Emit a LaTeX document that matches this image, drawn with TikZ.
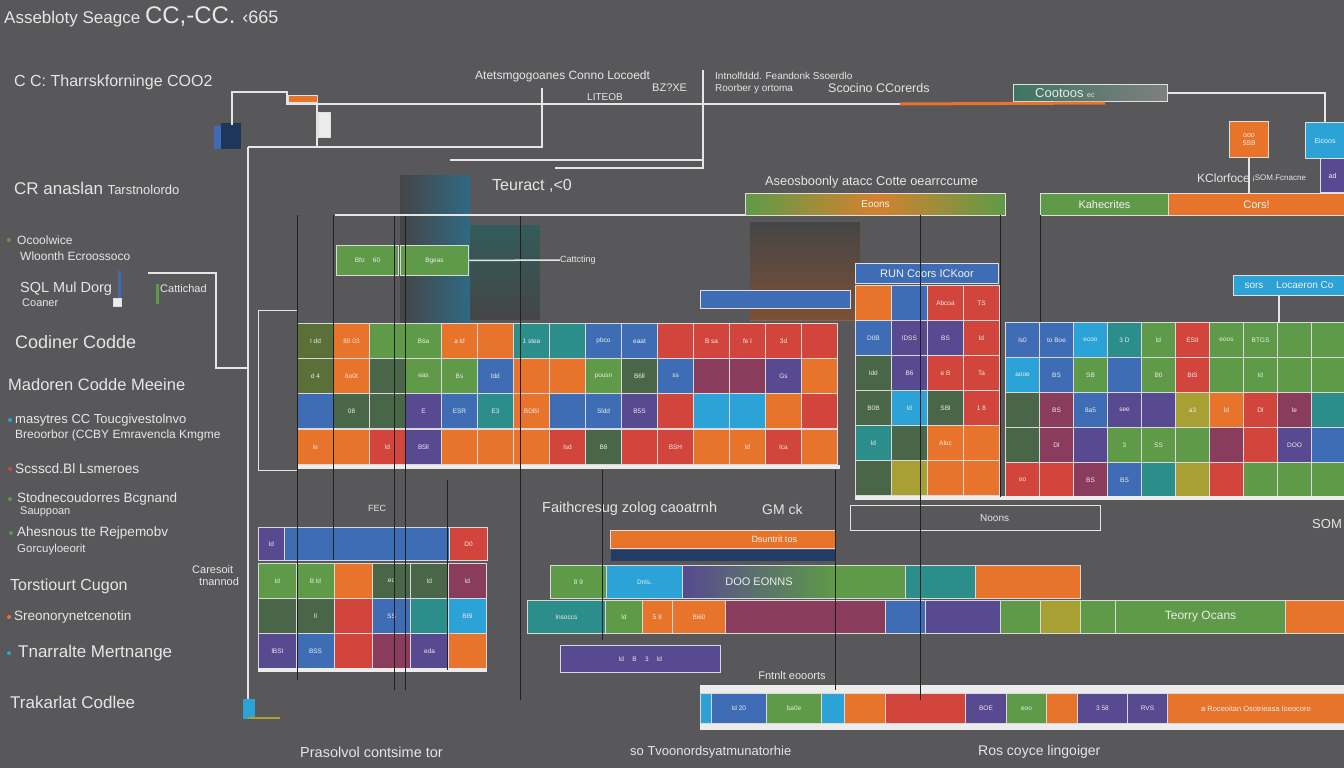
\documentclass[tikz,border=0pt]{standalone}
\usepackage{fontspec}
\setmainfont{Liberation Sans}
\usepackage{xcolor}
\usepackage{tikz}
\usetikzlibrary{calc}

\definecolor{bgray}{HTML}{58585A}
\definecolor{txt}{HTML}{E6E6E6}
\definecolor{corg}{HTML}{E8742C}
\definecolor{cgrn}{HTML}{5E9A48}
\definecolor{colv}{HTML}{5A7038}
\definecolor{cdkg}{HTML}{4A6648}
\definecolor{cblu}{HTML}{3E6DB5}
\definecolor{ccyn}{HTML}{2BA3D6}
\definecolor{ctea}{HTML}{2C8E8A}
\definecolor{cred}{HTML}{D2453D}
\definecolor{cpur}{HTML}{574A90}
\definecolor{cplm}{HTML}{8A3C5C}
\definecolor{cyel}{HTML}{A8A032}

\tikzset{
  lab/.style={text=txt, inner sep=0pt, font=\fontsize{17}{19}\selectfont},
  sub/.style={text=txt, inner sep=0pt, font=\fontsize{13}{14}\selectfont},
  note/.style={text=txt, inner sep=0pt, font=\fontsize{10}{11}\selectfont},
  cell/.style={draw=white!70!gray, line width=1pt, anchor=north west, inner sep=1pt,
    minimum width=36pt, minimum height=35pt, text=white!85!gray,
    font=\fontsize{6.5}{7}\selectfont, align=center},
  bar/.style={draw=white!75!gray, line width=1pt, inner sep=1pt, anchor=north west,
    minimum height=20pt, text=white!90!gray, font=\fontsize{10}{11}\selectfont},
  wire/.style={draw=white!80!gray, line width=1.5pt},
  rod/.style={draw=black!75!gray, line width=0.9pt},
  dot/.style={circle, inner sep=0pt, minimum size=4pt}
}

\begin{document}
\begin{tikzpicture}[x=1pt,y=-1pt]
\useasboundingbox (0,0) rectangle (1344,768);
\fill[bgray] (0,0) rectangle (1344,768);

\fill[left color=bgray, right color=ccyn!70!bgray, opacity=.7] (400,175) rectangle (470,330);
\fill[top color=ctea!60!bgray, bottom color=bgray, opacity=.7] (470,225) rectangle (540,320);
\fill[top color=bgray, bottom color=corg!55!bgray, opacity=.7] (750,222) rectangle (860,320);

\node[right, text=txt, inner sep=0pt] (title) at (4,17) {\fontsize{17}{18}\selectfont Assebloty Seagce \fontsize{24}{26}\selectfont CC,-CC. \fontsize{18}{19}\selectfont ‹665};
\node[lab, right, font=\fontsize{16}{18}\selectfont] (l1) at (14,82) {C C: Tharrskforninge COO2};
\node[lab, right] (l2) at (14,188) {CR anaslan {\fontsize{13}{14}\selectfont Tarstnolordo}};
\node[note, right, font=\fontsize{12}{13}\selectfont] (l3) at (17,240) {Ocoolwice};
\node[note, right, font=\fontsize{12}{13}\selectfont] (l3b) at (20,256) {Wloonth Ecroossoco};
\node[sub, right, font=\fontsize{14.5}{15}\selectfont] (l4) at (20,289) {SQL Mul Dorg};
\node[note, right, font=\fontsize{11}{12}\selectfont] (l4b) at (22,303) {Coaner};
\node[note, right, font=\fontsize{11}{12}\selectfont] (l4c) at (160,289) {Cattichad};
\node[lab, right, font=\fontsize{18}{19}\selectfont] (l5) at (15,342) {Codiner Codde};
\node[lab, right, font=\fontsize{16.5}{18}\selectfont] (l6) at (8,385) {Madoren Codde Meeine};
\node[sub, right, font=\fontsize{13}{14}\selectfont] (l7) at (15,420) {masytres CC Toucgivestolnvo};
\node[sub, right, font=\fontsize{12}{13}\selectfont] (l7b) at (15,435) {Breoorbor (CCBY Emravencla Kmgme};
\node[sub, right, font=\fontsize{13.7}{14}\selectfont] (l8) at (15,469) {Scsscd.Bl Lsmeroes};
\node[sub, right, font=\fontsize{13.5}{14}\selectfont] (l9) at (17,499) {Stodnecoudorres Bcgnand};
\node[note, right, font=\fontsize{11}{12}\selectfont] (l9b) at (20,512) {Sauppoan};
\node[sub, right, font=\fontsize{13.5}{14}\selectfont] (l10) at (17,533) {Ahesnous tte Rejpemobv};
\node[note, right, font=\fontsize{11.5}{12}\selectfont] (l10b) at (17,550) {Gorcuyloeorit};
\node[lab, right, font=\fontsize{16}{17}\selectfont] (l11) at (10,586) {Torstiourt Cugon};
\node[sub, right, font=\fontsize{13.5}{14}\selectfont] (l12) at (14,617) {Sreonorynetcenotin};
\node[lab, right] (l13) at (18,653) {Tnarralte Mertnange};
\node[lab, right] (l14) at (10,702) {Trakarlat Codlee};
\node[note, right, font=\fontsize{11}{12}\selectfont] (l15) at (192,570) {Caresoit};
\node[note, right, font=\fontsize{11}{12}\selectfont] (l15b) at (199,582) {tnannod};

\node[dot, fill=cgrn] (d1) at (9,240) {};
\node[dot, fill=ccyn] (d2) at (10,420) {};
\node[dot, fill=cred] (d3) at (10,469) {};
\node[dot, fill=cgrn] (d4) at (10,499) {};
\node[dot, fill=cgrn] (d5) at (11,533) {};
\node[dot, fill=corg] (d6) at (9,617) {};
\node[dot, fill=ccyn] (d7) at (9,653) {};

\node[sub, right, font=\fontsize{14.5}{15}\selectfont] (b1) at (300,752) {Prasolvol contsime tor};
\node[sub, right, font=\fontsize{13}{14}\selectfont] (b2) at (630,752) {so Tvoonordsyatmunatorhie};
\node[sub, right, font=\fontsize{14}{15}\selectfont] (b3) at (978,752) {Ros coyce lingoiger};

\node[sub, right, font=\fontsize{12}{13}\selectfont] (t1) at (475,76) {Atetsmgogoanes Conno Locoedt};
\node[note, right] (t2) at (587,97) {LITEOB};
\node[note, right, font=\fontsize{11}{12}\selectfont] (t3) at (652,88) {BZ?XE};
\node[note, right] (t4) at (715,76) {Intnolfddd. Feandonk Ssoerdlo};
\node[note, right] (t5) at (715,89) {Roorber y ortoma};
\node[sub, right, font=\fontsize{12.5}{13}\selectfont] (t6) at (828,88) {Scocino CCorerds};
\node[lab, right, font=\fontsize{16}{17}\selectfont] (t7) at (492,186) {Teuract ,<0};
\node[sub, right, font=\fontsize{12.8}{13}\selectfont] (t8) at (765,182) {Aseosboonly atacc Cotte oearrccume};
\node[sub, right, font=\fontsize{12}{13}\selectfont] (t9) at (1197,178) {KClorfoce};
\node[note, right, font=\fontsize{8}{9}\selectfont] (t10) at (1252,178) {¡SOM.Fcnacne};
\node[sub, right, font=\fontsize{14.5}{15}\selectfont] (m1) at (542,509) {Faithcresug zolog caoatrnh};
\node[sub, right, font=\fontsize{14}{15}\selectfont] (m2) at (762,509) {GM ck};
\node[sub, right] (m3) at (1312,524) {SOM};
\node[note, right, font=\fontsize{9}{10}\selectfont] (m4) at (368,508) {FEC};
\node[note, font=\fontsize{11}{12}\selectfont] (m5) at (792,676) {Fntnlt eooorts};
\node[note, right, font=\fontsize{9}{10}\selectfont] (m6) at (560,260) {Cattcting};

\node[bar, minimum width=154pt, minimum height=17pt, left color=cdkg!60!ctea, right color=gray] (cootoos) at (1013,84) {};
\node[sub, right, font=\fontsize{13}{14}\selectfont] (cootxt) at (1035,93) {Cootoos {\fontsize{7}{8}\selectfont ec}};
\node[bar, fill=corg, minimum width=39pt, minimum height=36pt, font=\fontsize{7}{8}\selectfont, align=center] (orgbox) at (1229,121) {ooo\\5S9};
\node[bar, fill=ccyn, minimum width=39pt, minimum height=36pt, font=\fontsize{7}{8}\selectfont] (cyanbox) at (1305,122) {Eicoos};
\node[bar, fill=cpur, minimum width=24pt, minimum height=34pt, font=\fontsize{7}{8}\selectfont] (purbox) at (1320,158) {ad};

\node[bar, minimum width=260pt, minimum height=22pt, left color=cgrn, right color=cgrn, middle color=corg!70!cyel] (bar1) at (745,193) {Eoons};
\node[bar, fill=cgrn, minimum width=128pt, minimum height=22pt, font=\fontsize{11}{12}\selectfont] (bar2) at (1040,193) {Kahecrites};
\node[bar, fill=corg, minimum width=176pt, minimum height=22pt, font=\fontsize{11}{12}\selectfont] (bar3) at (1168,193) {Cors!};

\node[bar, fill=corg, minimum width=29pt, minimum height=7pt] (obit) at (288,95) {};
\node[bar, fill=white!85!gray, minimum width=12pt, minimum height=25pt] (wbox) at (318,112) {};
\node[bar, draw=none, fill=cblu!50!black, minimum width=20pt, minimum height=26pt] (nav) at (220,122) {};
\node[bar, draw=none, fill=cblu, minimum width=7pt, minimum height=23pt] (navb) at (213,125) {};
\node[bar, draw=none, fill=cblu, minimum width=3pt, minimum height=30pt] (brk1) at (117,270) {};
\node[bar, fill=white!85!gray, minimum width=8pt, minimum height=8pt] (brk2) at (113,298) {};
\node[bar, draw=none, fill=cgrn, minimum width=3pt, minimum height=20pt] (brk3) at (155,283) {};

\node[cell, fill=cgrn, minimum width=62pt, minimum height=30pt] (gm1) at (336,245) {Bfo \quad 60};
\node[cell, fill=cgrn, minimum width=68pt, minimum height=30pt] (gm2) at (400,245) {Bgeas};
\node[bar, fill=cblu, minimum width=150pt, minimum height=18pt] (mb) at (700,290) {};
\node[bar, fill=cblu, minimum width=143pt, font=\fontsize{11}{12}\selectfont] (hb) at (855,263) {RUN Coors ICKoor};
\node[bar, fill=ccyn, minimum width=111pt, font=\fontsize{10}{11}\selectfont] (hc) at (1233,275) {sors \quad Locaeron Co};

\foreach \yy/\cols [count=\r] in {
  323/{colv/{I dd},corg/{80 03},cgrn/{},cgrn/{B6a},corg/{a ld},corg/{},ctea/{1 stea},ctea/{},cblu/{pbco},cblu/{eaat},cred/{},cred/{B sa},cred/{fe l},cred/{3d},cred/{}},
  358/{colv/{d 4},corg/{6o0t},cdkg/{},cgrn/{eas},cgrn/{Bs},cblu/{ldd},corg/{},corg/{},cgrn/{pousn},cdkg/{B6ll},cblu/{ss},cplm/{},cplm/{},cpur/{Gs},corg/{}},
  393/{cblu/{},cdkg/{08},cdkg/{},cpur/{E},cblu/{ESR},ctea/{E3},corg/{BDBI},cblu/{},cblu/{Sldd},cpur/{B5S},cred/{},ccyn/{},ccyn/{},corg/{},cred/{}},
  429/{corg/{le},corg/{},cred/{ld},cpur/{B5ll},corg/{},corg/{},corg/{},cred/{lsd},cdkg/{B8},cred/{},cred/{BSH},corg/{},corg/{ld},cred/{lca},corg/{}}}{
  \foreach \c/\t [count=\i] in \cols
    \node[cell, fill=\c] (ga-\r-\i) at ({297+(\i-1)*36},\yy) {\t};
}

\foreach \yy/\cols [count=\r] in {
  285/{corg/{},cblu/{},cred/{Abcoa},cred/{TS}},
  320/{cblu/{D0B},cpur/{lDSS},cpur/{BS},cred/{ld}},
  355/{cdkg/{ldd},cpur/{B6},cred/{e B},cred/{Ta}},
  390/{cdkg/{B0B},ccyn/{ld},cdkg/{SBl},cred/{1 8}},
  425/{ctea/{ld},cdkg/{},corg/{Aloc},corg/{}},
  460/{cdkg/{},cyel/{},corg/{},corg/{}}}{
  \foreach \c/\t [count=\i] in \cols
    \node[cell, fill=\c] (gb-\r-\i) at ({855+(\i-1)*36},\yy) {\t};
}

\foreach \yy/\cols [count=\r] in {
  322/{cblu/{ls0},cblu/{to Boe},ccyn/{ecoo},ctea/{3 D},cgrn/{ld},cred/{ESII},cgrn/{eoos},cgrn/{BTGS},cgrn/{},cgrn/{}},
  357/{ccyn/{aooe},cblu/{BS},cgrn/{SB},cblu/{},cgrn/{B0},cred/{BiS},cgrn/{},cgrn/{ld},cgrn/{},cgrn/{}},
  392/{cdkg/{},cplm/{BS},cblu/{8a5},cpur/{see},cpur/{},cyel/{a3},corg/{ld},cred/{Dl},cplm/{le},ctea/{}},
  427/{cdkg/{},cplm/{Dl},cpur/{},cgrn/{3},cgrn/{SS},cgrn/{},cplm/{},cred/{},cpur/{DOO},cblu/{}},
  462/{cred/{oo},cred/{},cplm/{BS},cblu/{BS},ctea/{},cyel/{},cred/{},cgrn/{},cgrn/{},cgrn/{}}}{
  \foreach \c/\t [count=\i] in \cols
    \node[cell, fill=\c, minimum width=34pt] (gc-\r-\i) at ({1005+(\i-1)*34},\yy) {\t};
}

\node[cell, fill=cpur, minimum width=26pt, minimum height=33pt] (gd-h1) at (258,527) {ld};
\node[cell, fill=cblu, minimum width=165pt, minimum height=33pt] (gd-h2) at (284,527) {};
\node[cell, fill=cred, minimum width=38pt, minimum height=33pt] (gd-h3) at (449,527) {D0};
\foreach \yy/\cols [count=\r] in {
  563/{cgrn/{ld},cgrn/{B ld},corg/{},cdkg/{eo},cdkg/{ld},cplm/{ld}},
  598/{cdkg/{},cdkg/{ll},cred/{},cblu/{SS},ctea/{},ccyn/{BBl}},
  633/{cpur/{lBSI},cblu/{BSS},cred/{},cplm/{},cpur/{eda},corg/{}}}{
  \foreach \c/\t [count=\i] in \cols
    \node[cell, fill=\c, minimum width=38pt] (gd-\r-\i) at ({258+(\i-1)*38},\yy) {\t};
}

\node[bar, fill=corg, minimum width=225pt, minimum height=18pt, font=\fontsize{9}{10}\selectfont] (mh) at (610,530) {\hspace{100pt} Dsuntrit tos};
\node[bar, draw=none, fill=cblu!55!black, minimum width=225pt, minimum height=11pt] (mh2) at (610,549) {};
\node[cell, minimum width=153pt, minimum height=33pt, left color=cpur, right color=cgrn, font=\fontsize{11}{12}\selectfont] (ma-3) at (682,565) {DOO EONNS};
\foreach \x/\w/\c/\t in {550/56/cgrn/{8 9},606/76/ccyn/{Dnls.},835/70/cgrn/{},905/70/ctea/{},975/105/corg/{}}
  \node[cell, fill=\c, minimum width=\w pt, minimum height=33pt] (ma-\x) at (\x,565) {\t};
\foreach \x/\w/\c/\t in {527/78/ctea/{lnsoccs},605/37/cgrn/{ld},642/30/corg/{5 8},672/53/corg/{Bi60},725/110/cplm/{},835/50/cplm/{},885/40/cblu/{},925/75/cpur/{},1000/40/cgrn/{},1040/40/cyel/{},1080/35/cgrn/{},1285/59/corg/{}}
  \node[cell, fill=\c, minimum width=\w pt, minimum height=33pt] (mr-\x) at (\x,600) {\t};
\node[cell, fill=cgrn, minimum width=170pt, minimum height=33pt, font=\fontsize{12}{13}\selectfont] (mr-t) at (1115,600) {Teorry Ocans};
\node[cell, fill=cpur, minimum width=160pt, minimum height=27pt] (ms) at (560,645) {ld \quad B \quad 3 \quad ld};
\node[bar, draw=white!80!gray, line width=1.2pt, minimum width=250pt, minimum height=25pt] (noons) at (850,505) {};
\node[note, right] (noontxt) at (980,518) {Noons};

\fill[white!85!gray] (700,685) rectangle (1344,693);
\fill[white!85!gray] (700,723) rectangle (1344,730);
\foreach \x/\w/\c/\t in {700/11/ccyn/{},711/55/cblu/{ld 20},766/55/cgrn/{ba0e},821/23/ccyn/{},844/41/corg/{},885/80/cred/{},965/41/cpur/{BOE},1006/40/cgrn/{eoo},1046/31/corg/{},1077/50/cpur/{3 58},1127/40/cpur/{RVS}}
  \node[cell, fill=\c, minimum width=\w pt, minimum height=30pt] (be-\x) at (\x,693) {\t};
\node[cell, fill=corg, minimum width=177pt, minimum height=30pt, font=\fontsize{7.5}{8}\selectfont] (be-end) at (1167,693) {a Roceoitan Osotrieasa Ioeocoro};

\fill[white!85!gray] (297,465) rectangle (840,469);
\fill[white!85!gray] (855,496) rectangle (1344,500);
\fill[white!85!gray] (258,668) rectangle (487,672);

\foreach \x/\a/\b in {297/215/680, 333/215/560, 394/215/690, 405/215/690, 447/480/670, 520/215/700, 602/470/640, 835/470/690, 920/215/700, 1000/215/497, 1040/215/322}
  \draw[rod] (\x,\a) -- (\x,\b);

\coordinate (wa) at (232,125);
\coordinate (wb) at (287,92);
\coordinate (wc) at (317,104);
\coordinate (wd) at (900,104);
\coordinate (we) at (1105,103);
\coordinate (wf) at (248,147);
\coordinate (wg) at (542,88);
\coordinate (wh) at (703,70);
\coordinate (wi) at (450,160);
\coordinate (wj) at (555,168);
\coordinate (wk) at (335,215);
\coordinate (wl) at (745,215);
\coordinate (wm) at (248,718);
\coordinate (wn) at (148,273);
\coordinate (wo) at (216,368);
\coordinate (wp) at (248,368);
\coordinate (wq) at (258,310);
\coordinate (wr) at (297,470);
\draw[wire] (wa) |- (wb) |- (wc);
\draw[wire] (wc) -- (wd);
\draw[corg, line width=3pt] (wd) -- (we);
\draw[wire] (wc) -- (wc |- wf);
\draw[wire] (wf) -| (wg);
\draw[wire] (wi) -| (wh);
\draw[wire] (wj) -| (wh);
\draw[wire] (wk) -- (wl);
\draw[wire] (wf) -- (wm);
\draw[wire] (wn) -| (wo) -- (wp);
\draw[wire, line width=1pt] (wr) -| (wq) -- (wq -| wr);
\draw[wire] (cootoos.east) -| (cyanbox.north);
\draw[wire] (orgbox.south) -- (orgbox.south |- bar3.north);
\draw[wire] (hc.south) ++(-10pt,0) -- ++(0,27);
\draw[wire] (gm2.east) -- (m6.west);
\node[bar, draw=none, fill=ccyn, minimum width=12pt, minimum height=20pt] (cone) at (242,698) {};
\draw[cyel, line width=2pt] (wm) -- ++(32,0);
\end{tikzpicture}
\end{document}
